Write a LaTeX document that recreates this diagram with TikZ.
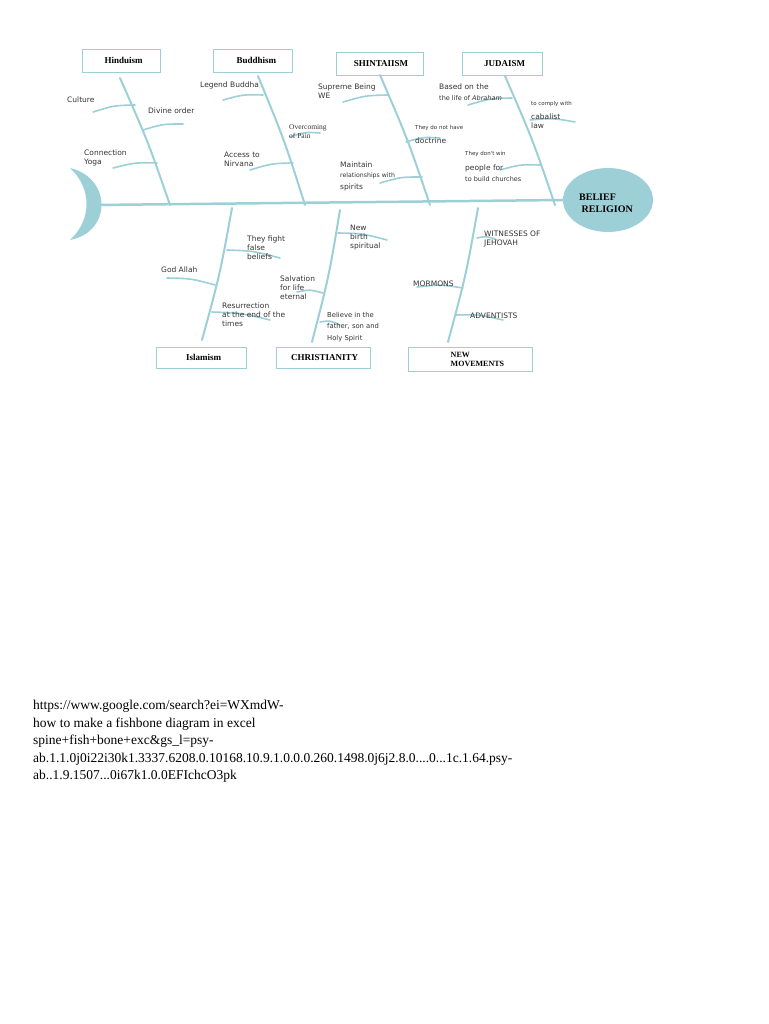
\documentclass[tikz,border=0pt]{standalone}
\usepackage{fontspec}
\usetikzlibrary{shapes.geometric,calc}
\setmainfont{Liberation Serif}
\newfontfamily\lab{DejaVu Sans}
\begin{document}
\begin{tikzpicture}[x=1pt,y=-1pt,
  bone/.style={draw=fc,line width=2pt,line cap=round},
  sub/.style={draw=fc,line width=1.6pt,line cap=round},
  box/.style={draw=fc,line width=0.8pt,minimum height=23pt,font=\bfseries\fontsize{9}{10}\selectfont,anchor=north west,align=left},
  lb/.style={anchor=west,font=\lab\fontsize{7.5}{9}\selectfont,text=black!80,inner sep=0pt,align=left},
  sm/.style={anchor=west,font=\lab\fontsize{5.5}{7}\selectfont,text=black!80,inner sep=0pt}]
\definecolor{fc}{HTML}{9CCFD6}
\useasboundingbox (0,0) rectangle (768,1024);
% tail
\fill[fc] (70,168) .. controls (112,178) and (112,232) .. (70,240) .. controls (92,220) and (92,188) .. (70,168) -- cycle;
% head
\node[fill=fc,ellipse,minimum width=90pt,minimum height=64pt,inner sep=0pt] (head) at (608,200) {};
\node[font=\bfseries\fontsize{10}{12}\selectfont,align=left] (headt) at (606,203) {BELIEF\\\ RELIGION};
\coordinate (tail) at (96,205);
\draw[bone,line width=2.5pt] (tail) -- (head.west);
% boxes
\node[box,minimum width=78pt] (hin) at (82,49) {\ \ Hinduism};
\node[box,minimum width=79pt] (bud) at (213,49) {\ \ \ Buddhism};
\node[box,minimum width=87pt] (shi) at (336,52) {\ SHINTAIISM};
\node[box,minimum width=80pt] (jud) at (462,52) {\ \ JUDAISM};
\node[box,minimum width=90pt,minimum height=21pt] (isl) at (156,347) {\ \ Islamism};
\node[box,minimum width=94pt,minimum height=21pt] (chr) at (276,347) {\ CHRISTIANITY};
\node[box,minimum width=124pt,minimum height=24pt,font=\bfseries\fontsize{8}{9}\selectfont] (new) at (408,347) {\ \ \ \ \ \ \ NEW\\\ \ \ \ \ \ \ MOVEMENTS};
% bone end points
\coordinate (h1) at (120,78); \coordinate (h2) at (170,205);
\coordinate (b1) at (258,76); \coordinate (b2) at (305,205);
\coordinate (s1) at (380,75); \coordinate (s2) at (430,205);
\coordinate (j1) at (505,76); \coordinate (j2) at (555,205);
\coordinate (i1) at (232,208); \coordinate (i2) at (202,340);
\coordinate (c1) at (340,210); \coordinate (c2) at (312,342);
\coordinate (n1) at (478,208); \coordinate (n2) at (448,342);
\foreach \a/\b in {h1/h2,b1/b2,s1/s2,j1/j2,i1/i2,c1/c2,n1/n2}
  \draw[bone] (\a) .. controls ($(\a)!0.5!(\b)+(3,0)$) .. (\b);
% sub-bones
\foreach \ax/\ay/\bx/\by in {93/112/135/105, 143/130/183/124, 113/168/157/163,
  223/100/263/95, 290/137/320/133, 250/170/293/163,
  343/102/388/95, 406/142/440/138, 380/183/422/177,
  468/105/512/98, 530/120/575/122, 500/170/540/165,
  227/250/280/258, 167/278/215/285, 212/312/270/320,
  338/233/387/240, 297/292/323/293, 320/322/340/325,
  477/238/497/240, 417/287/463/288, 455/315/503/320}
  \draw[sub] (\ax,\ay) .. controls ($(\ax,\ay)!0.5!(\bx,\by)+(0,-3)$) .. (\bx,\by);
% labels
\node[lb] (l1) at (67,100) {Culture};
\node[lb] (l2) at (148,111) {Divine order};
\node[lb] (l3) at (84,158) {Connection\\Yoga};
\node[lb] (l4) at (200,85) {Legend Buddha};
\node[lb,font=\fontsize{7.5}{9}\selectfont] (l5) at (289,132) {Overcoming\\of Pain};
\node[lb] (l6) at (224,159) {Access to\\Nirvana};
\node[lb] (l7) at (318,91) {Supreme Being\\WE};
\node[sm] (l8) at (415,128) {They do not have};
\node[lb] (l9) at (415,141) {doctrine};
\node[lb] (l10) at (340,165) {Maintain};
\node[sm,font=\lab\fontsize{6.2}{7}\selectfont] (l11) at (340,176) {relationships with};
\node[lb] (l12) at (340,187) {spirits};
\node[lb] (l13) at (439,87) {Based on the};
\node[sm,font=\lab\fontsize{6.5}{7}\selectfont] (l14) at (439,98) {the life of \textit{Abraham}};
\node[sm] (l15) at (531,104) {to comply with};
\node[lb] (l16) at (531,121) {cabalist\\law};
\node[sm] (l17) at (465,154) {They don't win};
\node[lb] (l18) at (465,168) {people for};
\node[sm,font=\lab\fontsize{6.5}{7}\selectfont] (l19) at (465,179) {to build churches};
\node[lb] (l20) at (247,248) {They fight\\false\\beliefs};
\node[lb] (l21) at (161,270) {God Allah};
\node[lb] (l22) at (280,288) {Salvation\\for life\\eternal};
\node[lb] (l23) at (222,315) {Resurrection\\at the end of the\\times};
\node[lb] (l24) at (350,238) {New\\birth\\spiritual};
\node[sm,font=\lab\fontsize{6.8}{11.5}\selectfont,align=left] (l25) at (327,327) {Believe in the\\father, son and\\Holy Spirit};
\node[lb] (l26) at (484,239) {WITNESSES OF\\JEHOVAH};
\node[lb] (l27) at (413,284) {MORMONS};
\node[lb] (l28) at (470,316) {ADVENTISTS};
% url text
\node[anchor=north west,align=left,inner sep=0pt,font=\fontsize{13.5}{17.5}\selectfont] (url) at (33,700) {https://www.google.com/search?ei=WXmdW-\\how to make a fishbone diagram in excel\\spine+fish+bone+exc\&gs\_l=psy-\\ab.1.1.0j0i22i30k1.3337.6208.0.10168.10.9.1.0.0.0.260.1498.0j6j2.8.0....0...1c.1.64.psy-\\ab..1.9.1507...0i67k1.0.0EFIchcO3pk};
\end{tikzpicture}
\end{document}
